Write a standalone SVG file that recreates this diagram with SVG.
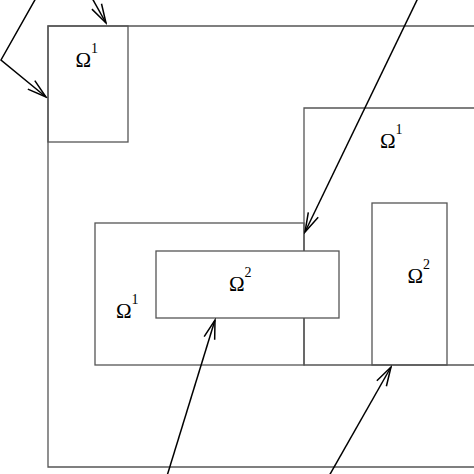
<svg xmlns="http://www.w3.org/2000/svg" width="474" height="474" viewBox="0 0 474 474">
<style>
.r{fill:none;stroke:#555;stroke-width:1.3}
.w{fill:#fff}
.a{fill:none;stroke:#000;stroke-width:1.5}
.t{font-family:"Liberation Serif","Times New Roman",serif;font-size:21px;fill:#000}
.s{font-size:14px}
</style>
<defs>
<marker id="ah" markerWidth="24" markerHeight="16" refX="0" refY="0" viewBox="-22 -8 24 16" orient="auto" markerUnits="userSpaceOnUse">
<path d="M-19,-5.5 L0,0 L-19,5.5" fill="none" stroke="#000" stroke-width="1.5"/>
</marker>
</defs>
<rect width="474" height="474" fill="#fff"/>
<g id="outer"><path class="r" d="M480,26 H48 V467 H480"/></g>
<g id="small"><rect class="r" x="48" y="26" width="80" height="116"/><text class="t" x="75.5" y="67">Ω<tspan class="s" dy="-14">1</tspan></text></g>
<g id="right"><path class="r" d="M480,108 H304 V365 H480"/><text class="t" x="380" y="148">Ω<tspan class="s" dy="-14">1</tspan></text></g>
<g id="left"><rect class="r" x="95" y="223" width="209" height="142"/><text class="t" x="116" y="318">Ω<tspan class="s" dy="-14">1</tspan></text></g>
<g id="mid"><rect class="r w" x="156" y="251" width="183" height="67"/><text class="t" x="229" y="291">Ω<tspan class="s" dy="-14">2</tspan></text></g>
<g id="tall"><rect class="r" x="372" y="203" width="75" height="162"/><text class="t" x="407.5" y="283">Ω<tspan class="s" dy="-14">2</tspan></text></g>
<g id="connectors">
<polyline class="a" points="36,-2 1,60 46,97" marker-end="url(#ah)"/>
<line class="a" x1="92" y1="-2" x2="106" y2="23" marker-end="url(#ah)"/>
<line class="a" x1="418" y1="-2" x2="305" y2="232" marker-end="url(#ah)"/>
<line class="a" x1="167" y1="476" x2="215" y2="320" marker-end="url(#ah)"/>
<line class="a" x1="329" y1="476" x2="391" y2="367" marker-end="url(#ah)"/>
</g>
</svg>
